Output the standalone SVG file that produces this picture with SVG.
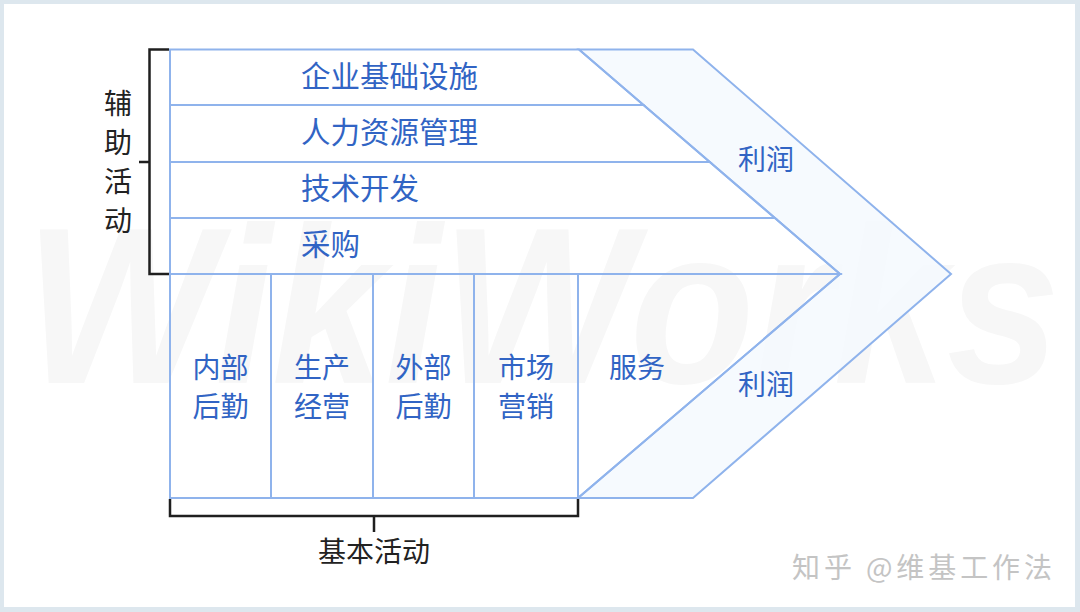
<svg xmlns="http://www.w3.org/2000/svg" width="1080" height="612" viewBox="0 0 1080 612">
<style>
.cell{fill:none;stroke:#8fb3ec;stroke-width:2;stroke-linejoin:miter}
.band{fill:#f5f9fe;fill-opacity:0.85;stroke:#8fb3ec;stroke-width:2;stroke-linejoin:miter}
.t{font-family:"Noto Sans CJK SC","Noto Sans",sans-serif;font-size:28px;fill:#3164c4}
.r{font-size:29.5px}
.k{font-family:"Noto Sans CJK SC","Noto Sans",sans-serif;font-size:28px;fill:#222222}
.br{fill:none;stroke:#1f1f1f;stroke-width:2.5}
</style>
<rect x="0" y="0" width="1080" height="612" fill="#dde7ee"/>
<rect x="4" y="4" width="1071" height="603" fill="#ffffff"/>
<text x="25" y="383" font-family="Liberation Sans, sans-serif" font-weight="bold" font-style="italic" font-size="222" fill="#f7f7f7" textLength="1035" lengthAdjust="spacingAndGlyphs">WikiWorks</text>

<g id="profit">
<polygon class="band" points="579,49.5 693,49.5 951,274 693,498 578,498 840,274"/>
<text class="t" x="766" y="170" text-anchor="middle">利润</text>
<text class="t" x="766" y="395" text-anchor="middle">利润</text>
</g>

<g id="infrastructure">
<polygon class="cell" points="170,49.5 579,49.5 643.5,105 170,105"/>
<text class="t r" x="301" y="87">企业基础设施</text>
</g>
<g id="hr">
<polygon class="cell" points="170,105 643.5,105 709.8,162 170,162"/>
<text class="t r" x="301" y="143">人力资源管理</text>
</g>
<g id="tech">
<polygon class="cell" points="170,162 709.8,162 774.9,218 170,218"/>
<text class="t r" x="301" y="199">技术开发</text>
</g>
<g id="procurement">
<polygon class="cell" points="170,218 774.9,218 840,274 170,274"/>
<text class="t r" x="301" y="255">采购</text>
</g>

<g id="inbound">
<rect class="cell" x="170" y="274" width="101" height="224"/>
<text class="t" x="220.5" y="378" text-anchor="middle">内部</text>
<text class="t" x="220.5" y="417" text-anchor="middle">后勤</text>
</g>
<g id="operations">
<rect class="cell" x="271" y="274" width="102" height="224"/>
<text class="t" x="322" y="378" text-anchor="middle">生产</text>
<text class="t" x="322" y="417" text-anchor="middle">经营</text>
</g>
<g id="outbound">
<rect class="cell" x="373" y="274" width="101" height="224"/>
<text class="t" x="423.5" y="378" text-anchor="middle">外部</text>
<text class="t" x="423.5" y="417" text-anchor="middle">后勤</text>
</g>
<g id="marketing">
<rect class="cell" x="474" y="274" width="104" height="224"/>
<text class="t" x="526" y="378" text-anchor="middle">市场</text>
<text class="t" x="526" y="417" text-anchor="middle">营销</text>
</g>
<g id="service">
<polygon class="cell" points="578,274 840,274 578,498"/>
<text class="t" x="609" y="378">服务</text>
</g>

<g id="connectors">
<path class="br" d="M169,49.5 H149.5 V274 H169 M149.5,162 H139"/>
<path class="br" d="M170,499 V516 H578 V499 M374,516 V532"/>
</g>

<g id="support-label">
<text class="k" x="118" y="114" text-anchor="middle">辅</text>
<text class="k" x="118" y="153" text-anchor="middle">助</text>
<text class="k" x="118" y="192" text-anchor="middle">活</text>
<text class="k" x="118" y="231" text-anchor="middle">动</text>
</g>
<g id="primary-label">
<text class="k" x="374" y="562" text-anchor="middle">基本活动</text>
</g>
<text x="792" y="578" font-family="Noto Sans CJK SC, Noto Sans, sans-serif" font-size="28" fill="#c4c4c4" textLength="260" lengthAdjust="spacing">知乎 @维基工作法</text>
</svg>
